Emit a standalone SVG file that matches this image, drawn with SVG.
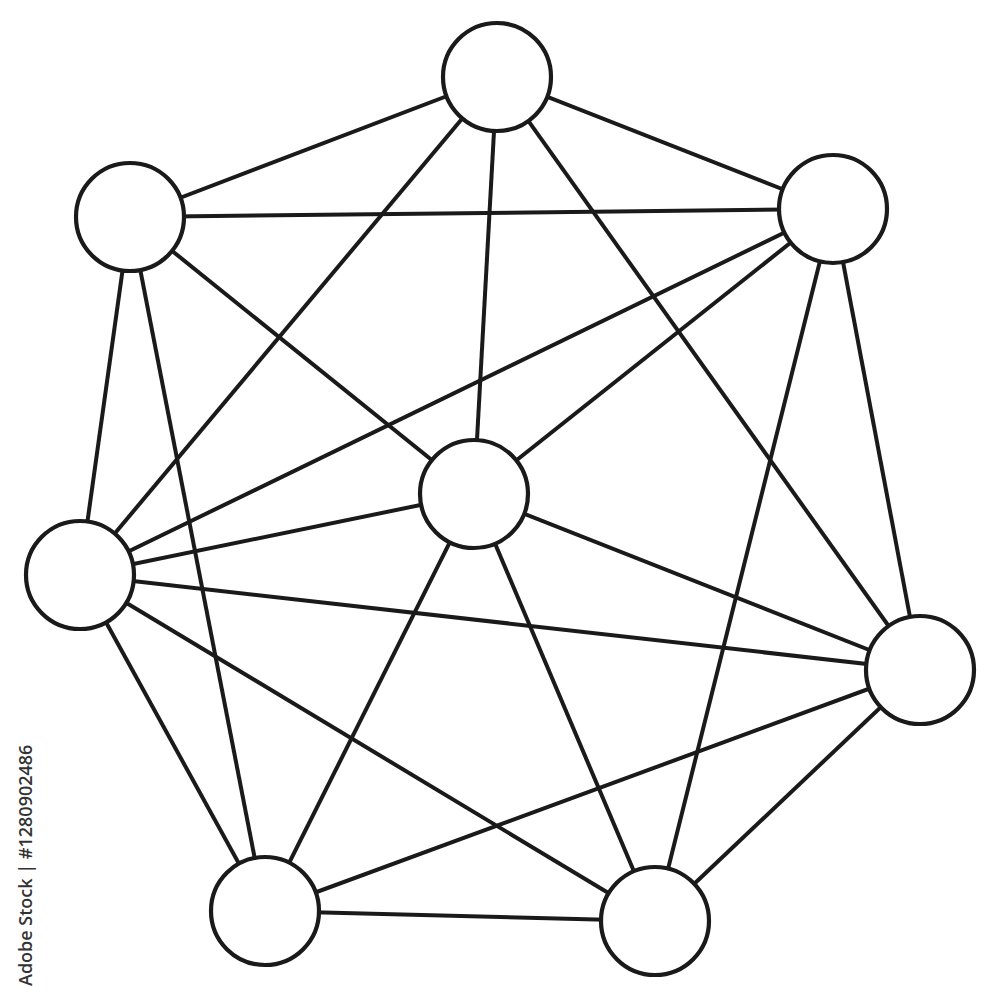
<svg xmlns="http://www.w3.org/2000/svg" width="1000" height="1000" viewBox="0 0 1000 1000">
<style>
.edge{stroke:#1a1a1a;stroke-width:4;fill:none;stroke-linecap:butt}
.node{fill:#ffffff;stroke:#1a1a1a;stroke-width:4.2}
.wm{font-family:"Open Sans","Noto Sans",sans-serif;font-size:18px;font-weight:600;fill:#333333}
</style>
<rect width="1000" height="1000" fill="#ffffff"/>
<g id="connectors">
<line class="edge" x1="497" y1="77" x2="130" y2="217"/>
<line class="edge" x1="497" y1="77" x2="833" y2="209"/>
<line class="edge" x1="497" y1="77" x2="80" y2="575"/>
<line class="edge" x1="497" y1="77" x2="474" y2="494"/>
<line class="edge" x1="497" y1="77" x2="920" y2="670"/>
<line class="edge" x1="130" y1="217" x2="833" y2="209"/>
<line class="edge" x1="130" y1="217" x2="474" y2="494"/>
<line class="edge" x1="130" y1="217" x2="80" y2="575"/>
<line class="edge" x1="130" y1="217" x2="265" y2="911"/>
<line class="edge" x1="833" y1="209" x2="80" y2="575"/>
<line class="edge" x1="833" y1="209" x2="474" y2="494"/>
<line class="edge" x1="833" y1="209" x2="920" y2="670"/>
<line class="edge" x1="833" y1="209" x2="655" y2="921"/>
<line class="edge" x1="474" y1="494" x2="80" y2="575"/>
<line class="edge" x1="474" y1="494" x2="920" y2="670"/>
<line class="edge" x1="474" y1="494" x2="265" y2="911"/>
<line class="edge" x1="474" y1="494" x2="655" y2="921"/>
<line class="edge" x1="80" y1="575" x2="920" y2="670"/>
<line class="edge" x1="80" y1="575" x2="265" y2="911"/>
<line class="edge" x1="80" y1="575" x2="655" y2="921"/>
<line class="edge" x1="920" y1="670" x2="265" y2="911"/>
<line class="edge" x1="920" y1="670" x2="655" y2="921"/>
<line class="edge" x1="265" y1="911" x2="655" y2="921"/>
</g>
<g id="node-top"><circle class="node" cx="497" cy="77" r="54"/></g>
<g id="node-upper-left"><circle class="node" cx="130" cy="217" r="54"/></g>
<g id="node-upper-right"><circle class="node" cx="833" cy="209" r="54"/></g>
<g id="node-center"><circle class="node" cx="474" cy="494" r="54"/></g>
<g id="node-left"><circle class="node" cx="80" cy="575" r="54"/></g>
<g id="node-right"><circle class="node" cx="920" cy="670" r="54"/></g>
<g id="node-bottom-left"><circle class="node" cx="265" cy="911" r="54"/></g>
<g id="node-bottom-right"><circle class="node" cx="655" cy="921" r="54"/></g>
<text class="wm" transform="translate(32,986) rotate(-90)">Adobe Stock | #1280902486</text>
</svg>
